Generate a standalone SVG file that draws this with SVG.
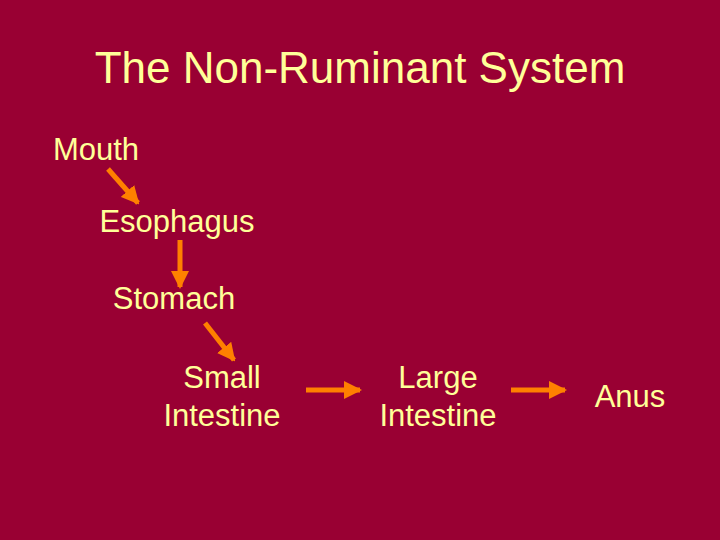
<svg xmlns="http://www.w3.org/2000/svg" width="720" height="540" viewBox="0 0 720 540">
<style>
text{font-family:"Liberation Sans",Arial,sans-serif;fill:#FFFF99;text-anchor:middle}
.lbl{font-size:31px}
.title{font-size:44px}
.arr{stroke:#FF8000;stroke-width:5;fill:none;marker-end:url(#ah)}
</style>
<defs>
<marker id="ah" markerUnits="userSpaceOnUse" markerWidth="18" markerHeight="18" refX="16" refY="9" orient="auto" viewBox="0 0 18 18">
<path d="M0,0 L18,9 L0,18 Z" fill="#FF8000"/>
</marker>
</defs>
<rect width="720" height="540" fill="#990033"/>
<text class="title" x="360" y="83">The Non-Ruminant System</text>
<g id="mouth"><text class="lbl" x="96" y="160">Mouth</text></g>
<g id="esophagus"><text class="lbl" x="177" y="232">Esophagus</text></g>
<g id="stomach"><text class="lbl" x="174" y="309">Stomach</text></g>
<g id="small"><text class="lbl" x="222" y="388">Small</text><text class="lbl" x="222" y="426">Intestine</text></g>
<g id="large"><text class="lbl" x="438" y="388">Large</text><text class="lbl" x="438" y="426">Intestine</text></g>
<g id="anus"><text class="lbl" x="630" y="407">Anus</text></g>
<g id="connectors">
<line class="arr" x1="108" y1="169" x2="138" y2="203"/>
<line class="arr" x1="180" y1="240" x2="180" y2="287"/>
<line class="arr" x1="205" y1="323" x2="234" y2="360"/>
<line class="arr" x1="306" y1="390" x2="360" y2="390"/>
<line class="arr" x1="511" y1="390" x2="565" y2="390"/>
</g>
</svg>
